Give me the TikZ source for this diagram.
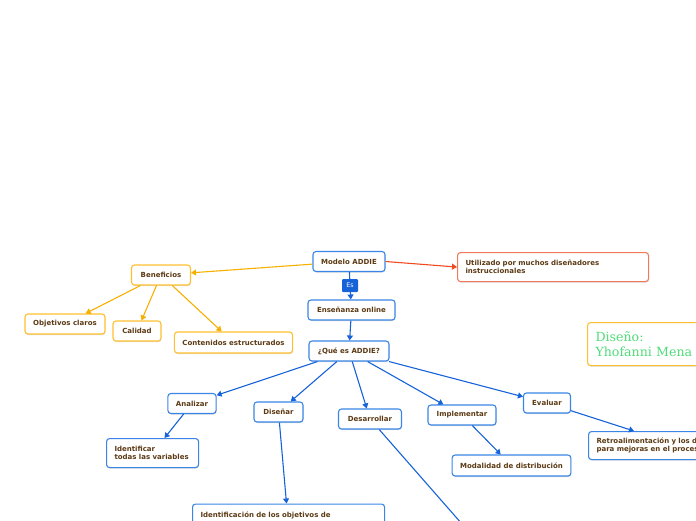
\documentclass[tikz,border=0pt]{standalone}
\usepackage{fontspec}
\setmainfont{DejaVu Sans}
\newfontfamily\titlefont{DejaVu Serif}
\usetikzlibrary{arrows.meta,shadows}
\hyphenpenalty=10000
\exhyphenpenalty=10000
\definecolor{txt}{RGB}{92,58,20}
\definecolor{bline}{RGB}{22,98,216}
\definecolor{bborder}{RGB}{58,133,229}
\definecolor{oline}{RGB}{247,176,0}
\definecolor{oborder}{RGB}{255,192,48}
\definecolor{rline}{RGB}{240,74,32}
\definecolor{rborder}{RGB}{240,122,90}
\definecolor{greentxt}{RGB}{80,220,120}
\tikzset{
  card/.style={draw, line width=1.1pt, rounded corners=3pt, fill=white,
    text=txt, inner xsep=8pt, inner ysep=2pt,
    font=\fontsize{7}{8}\selectfont\bfseries,
    drop shadow={shadow xshift=0.4pt, shadow yshift=-1pt, fill=black, opacity=0.15}},
  bluecard/.style={card, draw=bborder, minimum height=20pt},
  orangecard/.style={card, draw=oborder, minimum height=20pt},
  redcard/.style={card, draw=rborder},
  blink/.style={draw=bline, line width=1.1pt, -{Triangle[length=5pt,width=6pt]}},
  olink/.style={draw=oline, line width=1.1pt, -{Triangle[length=5pt,width=6pt]}},
  rlink/.style={draw=rline, line width=1.1pt, -{Triangle[length=5pt,width=6pt]}},
  eslabel/.style={fill=bline, text=white, rounded corners=1pt, inner sep=0pt,
    minimum width=16pt, minimum height=13pt, font=\fontsize{6.3}{7}\selectfont},
}
\begin{document}
\begin{tikzpicture}[x=1pt,y=-1pt]
\useasboundingbox (0,0) rectangle (696,520);

% central column
\node[bluecard, minimum width=72pt] (modelo) at (349,261.5) {Modelo ADDIE};
\node[eslabel] (es) at (350,285.5) {Es};
\node[bluecard, minimum width=87pt] (ensenanza) at (351.5,310) {Enseñanza online};
\node[bluecard, minimum width=80pt] (quees) at (349,351) {¿Qué es ADDIE?};

% red branch
\node[redcard, anchor=north west, text width=175pt, align=left, minimum height=29pt] (utilizado) at (457,252)
  {Utilizado por muchos diseñadores\\instruccionales};

% author box
\node[draw=oborder, line width=1.1pt, rounded corners=3pt, fill=white,
  drop shadow={shadow xshift=0.4pt, shadow yshift=-1pt, fill=black, opacity=0.15},
  anchor=north west, text width=130pt, align=left, inner xsep=8pt, inner ysep=3pt,
  minimum height=43pt, text=greentxt, font=\titlefont\fontsize{12.6}{14.5}\selectfont] (diseno) at (587,322)
  {Diseño:\\Yhofanni Mena};

% benefits
\node[orangecard, minimum width=59pt] (beneficios) at (161,275) {Beneficios};
\node[orangecard, minimum width=80pt] (objetivos) at (65,324) {Objetivos claros};
\node[orangecard, minimum width=48pt] (calidad) at (137,331) {Calidad};
\node[orangecard, minimum width=117pt, minimum height=21pt] (contenidos) at (233.5,342.5) {Contenidos estructurados};

% ADDIE phases
\node[bluecard, minimum width=48pt] (analizar) at (192,403.5) {Analizar};
\node[bluecard, minimum width=49pt] (disenar) at (278.5,412) {Diseñar};
\node[bluecard, minimum width=63pt] (desarrollar) at (370,419) {Desarrollar};
\node[bluecard, minimum width=68pt] (implementar) at (462,415) {Implementar};
\node[bluecard, minimum width=47pt] (evaluar) at (547,403) {Evaluar};

% details
\node[card, draw=bborder, anchor=north west, text width=76pt, align=left, minimum height=29pt] (identificar) at (106,438)
  {Identificar\\todas las variables};
\node[card, draw=bborder, anchor=north west, text width=176pt, align=left, minimum height=30pt] (identificacion) at (192,503.5)
  {Identificación de los objetivos de\\\mbox{}};
\node[bluecard, minimum width=117pt, minimum height=21pt] (modalidad) at (511.5,465.5) {Modalidad de distribución};
\node[card, draw=bborder, anchor=north west, text width=190pt, align=left, minimum height=28pt] (retro) at (588,431)
  {Retroalimentación y los datos\\para mejoras en el proceso};
\coordinate (idtop) at (286.5,503.5);
\coordinate (retrotop) at (634,431);
\coordinate (desout) at (462,524);

% connectors
\draw[olink] (modelo) -- (beneficios);
\draw[olink] (beneficios) -- (objetivos);
\draw[olink] (beneficios) -- (calidad);
\draw[olink] (beneficios) -- (contenidos);
\draw[rlink] (modelo.east) -- (utilizado.west);
\draw[draw=bline, line width=1.1pt] (modelo) -- (es);
\draw[blink] (es) -- (ensenanza);
\draw[blink] (ensenanza) -- (quees);
\draw[blink] (quees) -- (analizar);
\draw[blink] (quees) -- (disenar);
\draw[blink] (quees) -- (desarrollar);
\draw[blink] (quees) -- (implementar);
\draw[blink] (quees) -- (evaluar);
\draw[blink] (analizar) -- (identificar);
\draw[blink] (disenar) -- (idtop);
\draw[blink] (implementar) -- (modalidad);
\draw[blink] (evaluar) -- (retrotop);
\draw[draw=bline, line width=1.1pt] (desarrollar) -- (desout);
\end{tikzpicture}
\end{document}
